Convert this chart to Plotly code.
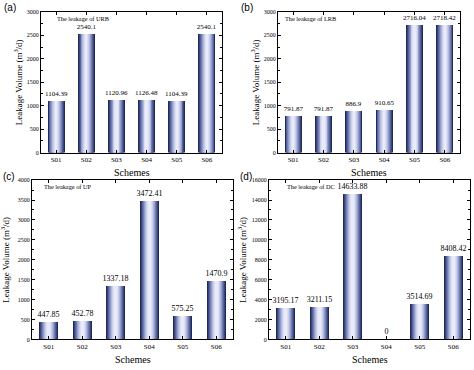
import plotly.graph_objects as go

schemes = ["S01", "S02", "S03", "S04", "S05", "S06"]
urb = [1104.39, 2540.1, 1120.96, 1126.48, 1104.39, 2540.1]
lrb = [791.87, 791.87, 886.9, 910.65, 2716.04, 2718.42]
up = [447.85, 452.78, 1337.18, 3472.41, 575.25, 1470.9]
dc = [3195.17, 3211.15, 14633.88, 0, 3514.69, 8408.42]

panels = [
    ("(a)", "The leakage of URB", urb, [0, 3000], 500),
    ("(b)", "The leakage of LRB", lrb, [0, 3000], 500),
    ("(c)", "The leakage of UP", up, [0, 4000], 500),
    ("(d)", "The leakage of DC", dc, [0, 16000], 2000),
]

W, H = 474, 370
# plot-area boxes in pixels: left, right, top, bottom
boxes = [
    (41, 222, 9, 152),
    (278, 460, 9, 152),
    (32, 233, 180, 342),
    (269, 470, 180, 342),
]
title_dx = [14, 5, 10, 16]
label_size = [7, 7, 8, 8]

widths = [0.56, 0.50, 0.44, 0.38, 0.32, 0.26, 0.20, 0.14, 0.08]
colors = ["#1f2a5a", "#3a4578", "#56619a", "#7480b4", "#939dcb",
          "#b0b8dd", "#c9cfea", "#dcdff3", "#e9ebf8"]


def fmt(v):
    s = f"{v:.2f}".rstrip("0").rstrip(".")
    return s


serif = "Liberation Serif"
fig = go.Figure()

for i, (lab, title, vals, rng, dt) in enumerate(panels):
    n = i + 1
    xa = "x" if n == 1 else f"x{n}"
    ya = "y" if n == 1 else f"y{n}"
    for j, (w, c) in enumerate(zip(widths, colors)):
        fig.add_trace(go.Bar(
            x=schemes, y=vals, xaxis=xa, yaxis=ya, width=w,
            marker=dict(color=c, line=dict(width=0)),
            text=[fmt(v) for v in vals] if j == 0 else None,
            textposition="outside" if j == 0 else "none",
            textangle=0, constraintext="none",
            textfont=dict(family=serif, size=label_size[i], color="black"),
            cliponaxis=False, showlegend=False, hoverinfo="skip",
        ))
    l, r, t, b = boxes[i]
    xd = [l / W, r / W]
    yd = [1 - b / H, 1 - t / H]
    axkey = "xaxis" if n == 1 else f"xaxis{n}"
    aykey = "yaxis" if n == 1 else f"yaxis{n}"
    fig.layout[axkey] = dict(
        domain=xd, anchor=ya, range=[-0.5, 5.5], type="category",
        showline=True, linecolor="black", linewidth=1, mirror="ticks",
        ticks="inside", ticklen=3, tickcolor="black",
        tickfont=dict(family=serif, size=7, color="black"),
        showgrid=False, zeroline=False,
    )
    fig.layout[aykey] = dict(
        domain=yd, anchor=xa, range=rng, dtick=dt, tickformat="d",
        showline=True, linecolor="black", linewidth=1, mirror="ticks",
        ticks="inside", ticklen=3, tickcolor="black",
        minor=dict(ticks="inside", ticklen=2, dtick=dt / 2, tickcolor="black"),
        tickfont=dict(family=serif, size=6, color="black"),
        showgrid=False, zeroline=False,
    )
    # panel label
    fig.add_annotation(x=(l - 39 if i in (0, 1) else l - 31) / W, y=1 - (t - 4) / H,
                       xref="paper", yref="paper", text=lab, showarrow=False,
                       xanchor="left", yanchor="middle",
                       font=dict(family="Liberation Sans", size=10, color="black"))
    # inner title
    fig.add_annotation(x=(l + title_dx[i]) / W, y=1 - (t + 7) / H, xref="paper", yref="paper",
                       text=title, showarrow=False, xanchor="left", yanchor="middle",
                       font=dict(family=serif, size=6.3, color="black"))
    # x title
    fig.add_annotation(x=(l + r) / 2 / W, y=1 - (b + 20) / H, xref="paper", yref="paper",
                       text="Schemes", showarrow=False, xanchor="center", yanchor="middle",
                       font=dict(family=serif, size=10, color="black"))
    # y title
    fig.add_annotation(x=(l - 23 if i in (0, 1) else l - 27) / W, y=1 - (t + b) / 2 / H,
                       xref="paper", yref="paper",
                       text="Leakage Volume (m<sup>3</sup>/d)", showarrow=False,
                       textangle=-90, xanchor="center", yanchor="middle",
                       font=dict(family=serif, size=9, color="black"))

fig.update_layout(
    width=W, height=H, barmode="overlay", bargap=0,
    margin=dict(l=0, r=0, t=0, b=0),
    paper_bgcolor="white", plot_bgcolor="white",
)
fig.write_html("out.html", config={"displayModeBar": False},
               post_script="document.body.style.margin='0';document.body.style.padding='0';")
